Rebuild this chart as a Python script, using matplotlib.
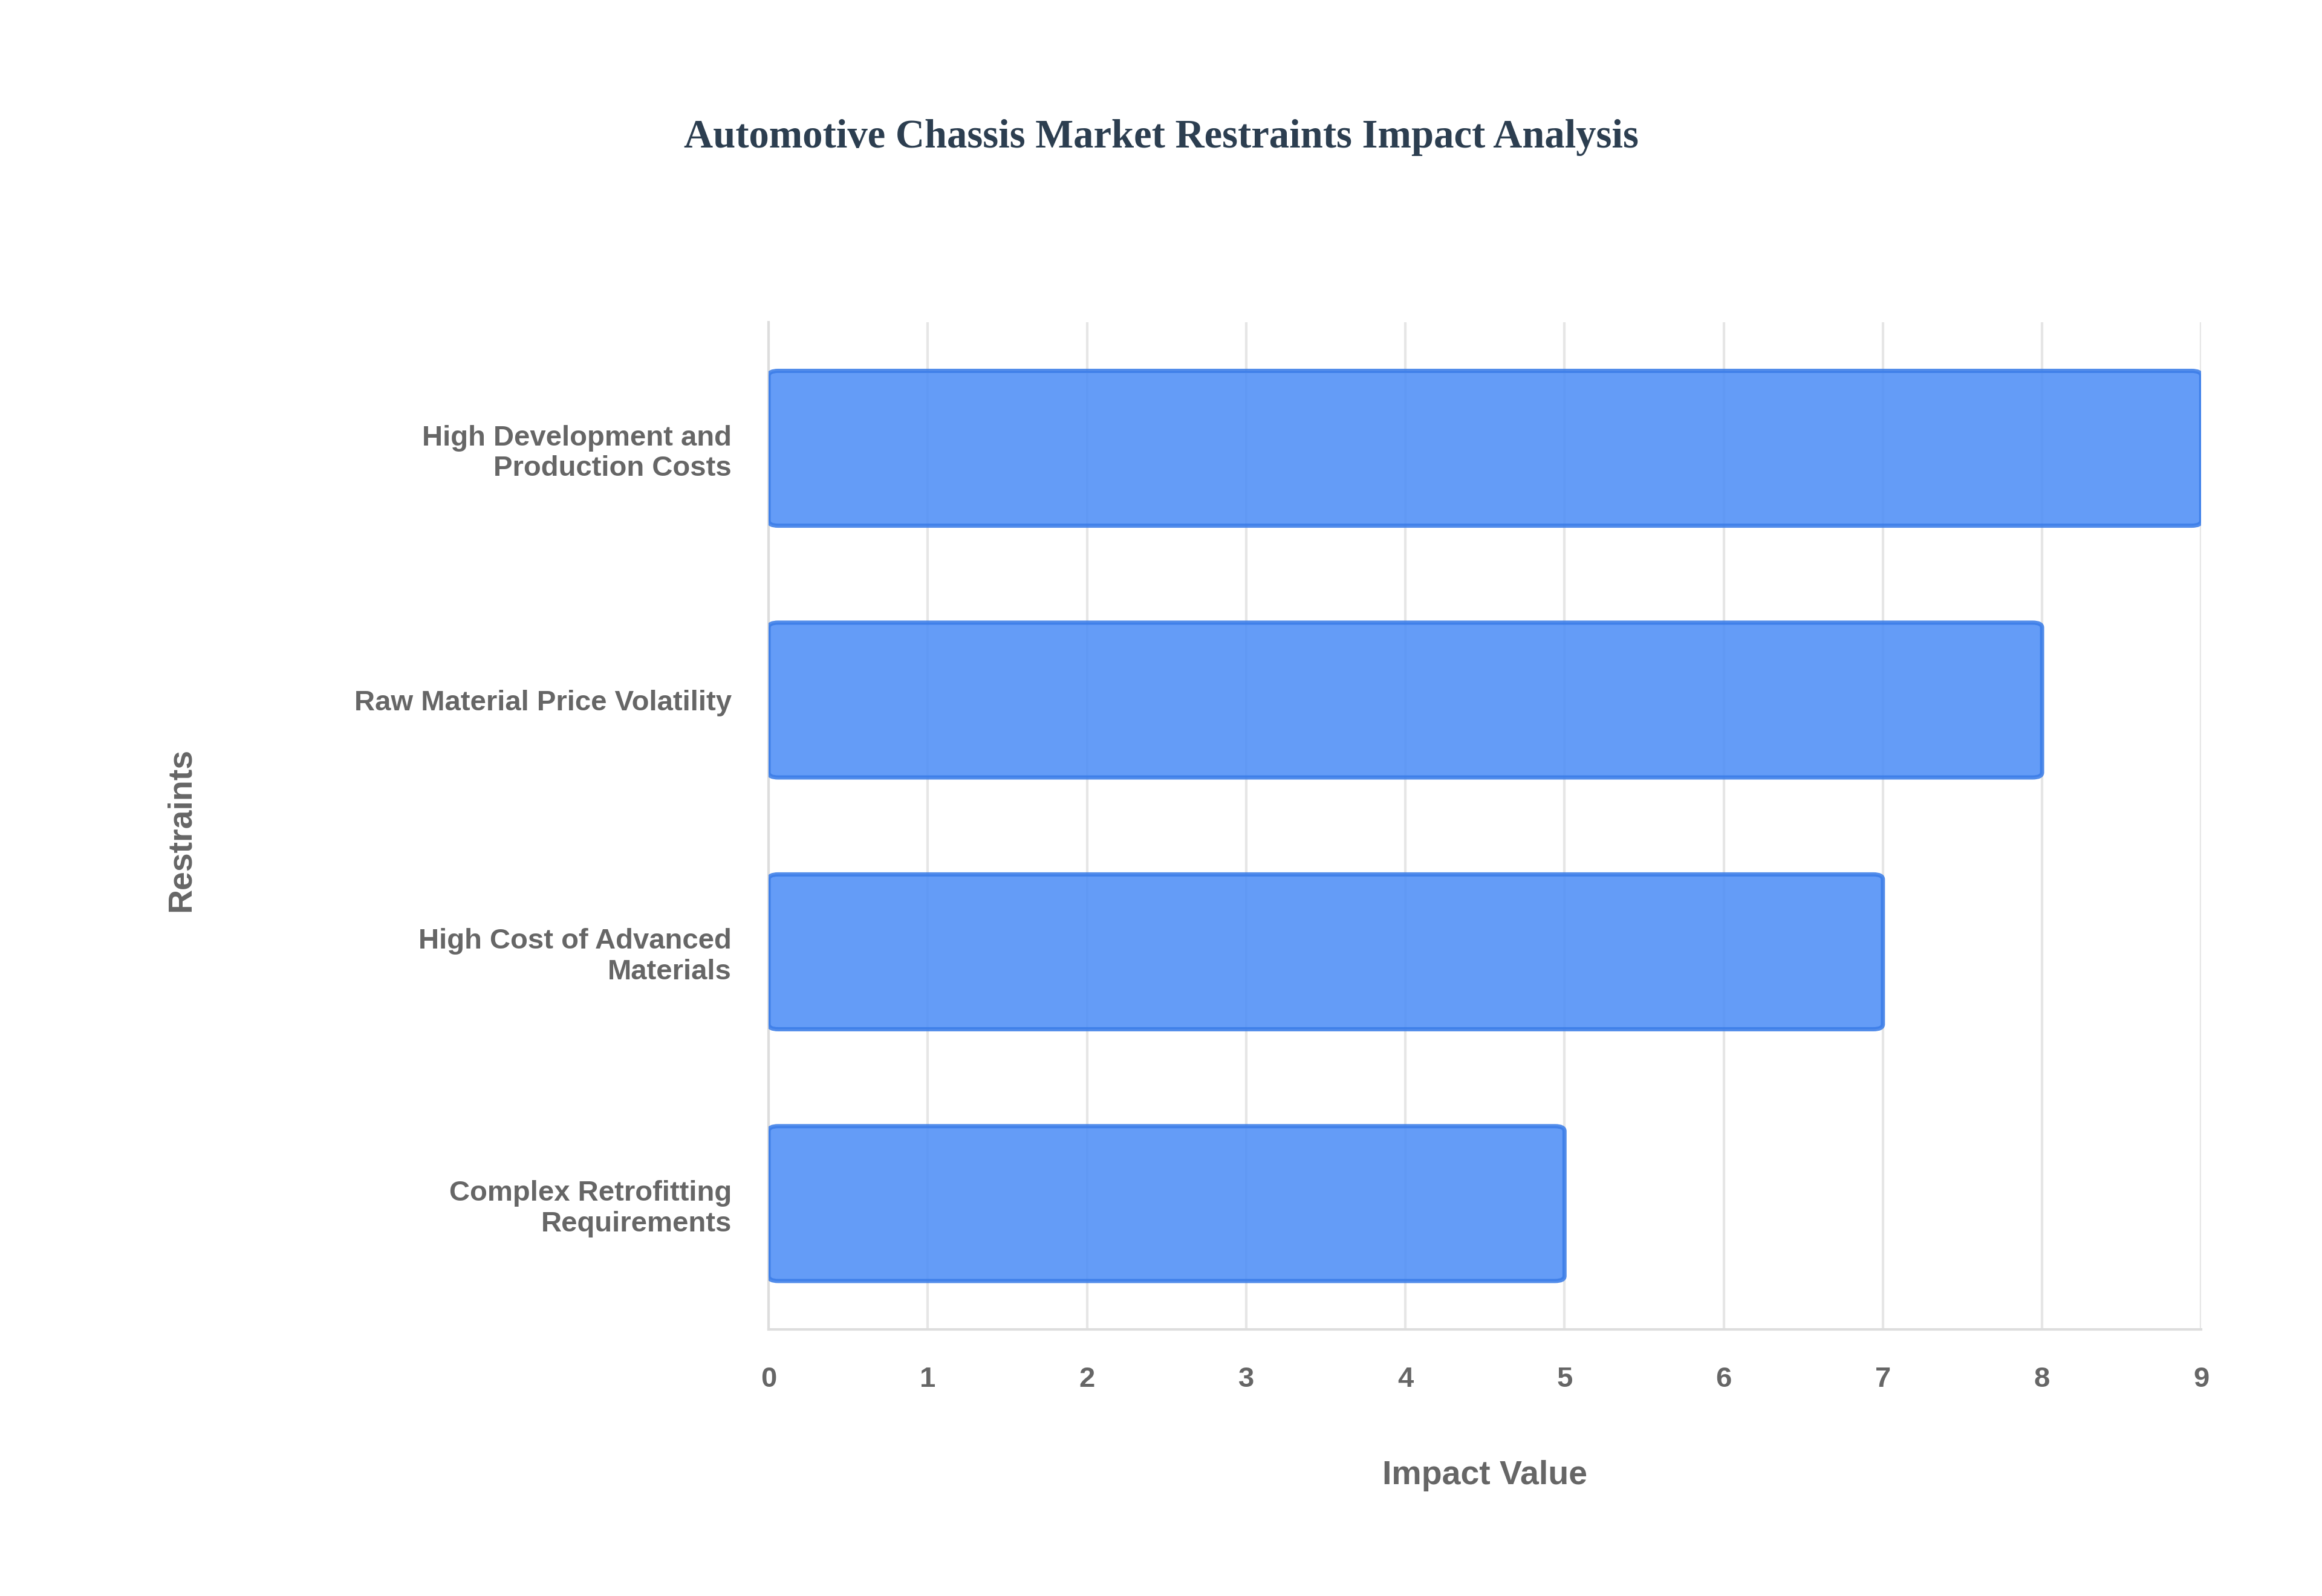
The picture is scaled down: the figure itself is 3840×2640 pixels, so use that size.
import matplotlib
matplotlib.use("Agg")
import matplotlib.pyplot as plt
from matplotlib.patches import FancyBboxPatch

categories = ["High Development and\nProduction Costs", "Raw Material Price Volatility",
              "High Cost of Advanced\nMaterials", "Complex Retrofitting\nRequirements"]
values = [9, 8, 7, 5]
xticks = list(range(10))

fig = plt.figure(figsize=(19.2, 13.2), dpi=200)
ax = fig.add_axes([0.331, 0.167, 0.617, 0.631])
ys = list(range(len(categories)))[::-1]
for y, v in zip(ys, values):
    ax.add_patch(FancyBboxPatch((0, y - 0.3075), v, 0.615,
                 boxstyle="round,pad=0,rounding_size=0.06",
                 mutation_aspect=1/9*3, facecolor="#4f8ff7", alpha=0.88,
                 edgecolor="#3b7de8", linewidth=2.5, zorder=3))
ax.set_xlim(0, 9)
ax.set_ylim(-0.5, 3.5)
ax.set_yticks(ys)
ax.set_yticklabels(categories, fontsize=17, fontweight="bold", color="#666666",
                   family="Liberation Sans", ha="right")
ax.set_xticks(xticks)
ax.set_xticklabels([str(t) for t in xticks], fontsize=17, fontweight="bold",
                   color="#666666", family="Liberation Sans")
ax.tick_params(axis="both", length=0, pad=22)
ax.grid(axis="x", color="#e6e6e6", linewidth=1.5, zorder=0)
for s in ["top", "right"]:
    ax.spines[s].set_visible(False)
for s in ["left", "bottom"]:
    ax.spines[s].set_color("#dddddd")
    ax.spines[s].set_linewidth(1.5)
ax.set_xlabel("Impact Value", fontsize=20, fontweight="bold", color="#666666",
              family="Liberation Sans", labelpad=40)
fig.text(0.078, 0.48, "Restraints", rotation=90, fontsize=20, fontweight="bold",
         color="#666666", family="Liberation Sans", ha="center", va="center")
fig.text(0.5, 0.914, "Automotive Chassis Market Restraints Impact Analysis",
         fontsize=24, fontweight="bold", color="#2c3e50", family="Liberation Serif",
         ha="center", va="center")
fig.savefig("out.png", dpi=200, facecolor="white")
